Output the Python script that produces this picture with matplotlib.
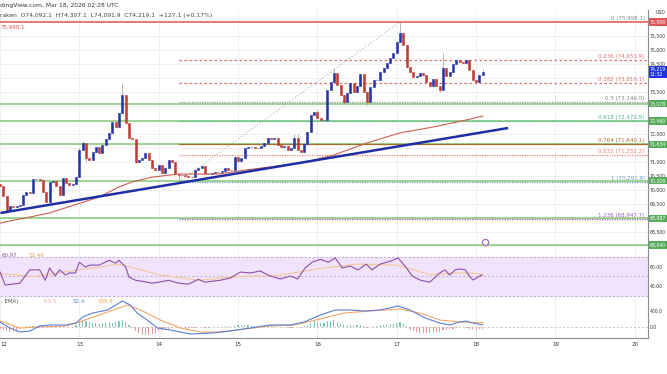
import numpy as np
import matplotlib.pyplot as plt
from matplotlib.transforms import blended_transform_factory

# BTC/USD hourly candles, hour 0 = Mar 12 00:00 UTC
first_open = 70210
close = [70140, 69790, 69250, 69430, 69400, 69430, 69460, 69820, 69930, 69890,
         70390, 70390, 70360, 69930, 69570, 70290, 70320, 70140, 69820, 70430,
         70250, 70180, 70200, 70460, 71430, 71680, 71140, 71070, 71360, 71540,
         71320, 71610, 71820, 72040, 72430, 72250, 72750, 73390, 72390, 71860,
         71820, 71000, 71070, 71140, 71320, 71070, 70790, 70710, 70890, 70610,
         70790, 71070, 71000, 70570, 70540, 70540, 70500, 70460, 70480, 70710,
         70790, 70860, 70570, 70570, 70610, 70640, 70640, 70680, 70790, 70710,
         70710, 71180, 71040, 71140, 71500, 71540, 71540, 71500, 71500, 71570,
         71680, 71860, 71820, 71860, 71610, 71540, 71570, 71430, 71500, 71860,
         71430, 71360, 71640, 72070, 72680, 72790, 72570, 72500, 72500, 73570,
         73860, 74180, 73750, 73390, 73140, 73460, 73820, 73500, 73710, 74140,
         73500, 73140, 73680, 73930, 73930, 74210, 74360, 74540, 74710, 74890,
         75290, 75610, 75180, 74390, 74210, 74040, 74070, 74180, 74110, 73860,
         73710, 73960, 73710, 73570, 74360, 74070, 74210, 74500, 74640, 74570,
         74540, 74640, 74290, 73930, 73860, 74092, 74219]
wick_high = {24: 71500, 25: 71750, 37: 73820, 89: 72000, 90: 72000, 96: 72860,
             101: 74360, 120: 75320, 121: 75998, 134: 74890, 146: 74307}
wick_low = {2: 69180, 3: 69330, 26: 71000, 41: 70960, 54: 70292, 104: 73080,
            111: 73040, 133: 73500, 146: 74092}

# moving average (red line)
ma_h = [0, 15, 30, 36, 40, 46, 54, 66, 74, 91, 101, 111, 121, 131, 141, 146]
ma_v = [68820, 69180, 69750, 70110, 70290, 70460, 70570, 70570, 70710, 70960,
        71250, 71680, 72040, 72250, 72500, 72640]

# trend line and fib anchors
trend_h = [0.12, 153.7]
trend_v = [69179, 72214]
fib_low_h, fib_low = 54, 70291.9
fib_high_h, fib_high = 121, 75998.1
fib_ratios = ['0', '0.236', '0.382', '0.5', '0.618', '0.764', '0.832', '1', '1.236']
fib_prices = [75998.1, 74651.9, 73819.1, 73146.0, 72472.9, 71640.1, 71252.2, 70291.9, 68947.7]
fib_colors = ['#e05555', '#e07070', '#e07070', '#999999', '#4db89a', '#a07030',
              '#f08080', '#6fa0c8', '#9b5fc0']
fib_styles = ['-', (0, (2, 2)), (0, (2, 2)), (0, (1, 1)), (0, (1, 1)), '-',
              (0, (1, 1)), (0, (1, 1)), (0, (1, 1))]

# support / resistance lines
green_levels = [73078, 72460, 71634, 70329, 68987, 68040]
green_labels = ['73,078', '72,460', '71,634', '70,329', '68,987', '68,040']

price_ticks = [75500, 75000, 74500, 73500, 72000, 71000, 70500, 70000, 69500, 68500]

# RSI
rsi_h = [0, 1.6, 6, 9, 12, 13.7, 15, 16.7, 18, 19.8, 21, 22.8, 24, 25.8, 27.3, 30,
         33, 35, 36, 38, 39, 41, 43, 46, 48, 51, 54, 57, 60, 62, 64, 66.6,
         69.6, 72.7, 75.7, 78.7, 81.7, 84.8, 87.8, 90, 92.3, 94.4, 96.9, 99.3,
         101.4, 103.5, 105.9, 108.3, 110.8, 112.5, 115, 118, 120.4, 122.5,
         124.7, 127, 130, 133, 134.6, 136, 137.7, 139.2, 140.7, 142.2, 143.1,
         144.6, 145.8]
rsi_v = [54.7, 41, 43, 57, 57, 46, 59, 50.5, 57, 51.6, 53.7, 53.7, 65, 60, 62, 62,
         67, 64, 67, 60, 49.5, 46, 45, 43, 44, 46, 43, 42, 47, 44, 45, 46,
         48.4, 54.7, 53.7, 55.8, 50.5, 47.4, 50.5, 47.4, 59, 65, 68, 65,
         69.5, 59, 61, 57, 63, 57, 63, 66, 69.5, 61,
         50.5, 46.3, 44, 53.7, 57, 51.6, 57, 58, 57, 49.5, 46.3,
         49.5, 51.6]
rsi_ma_h = [0, 10, 24, 36, 48, 60, 72, 84, 96, 108, 120, 130, 140, 146]
rsi_ma_v = [53, 50, 57, 63, 52, 46, 50, 51, 58, 63, 62, 52, 54, 52.5]

# MACD
macd_h = [0, 3, 6, 9, 12, 15, 20, 23, 25, 28, 32.5, 35, 37, 39.4, 41.5, 44.5,
          47.6, 51.5, 57.5, 64.5, 69.6, 75.7, 81.7, 87.8, 92, 96.9, 101.4, 106,
          110.5, 115, 120.4, 124, 128.6, 133, 136, 139, 141, 143, 146]
macd_v = [125, -25, -125, -100, 25, 50, 50, 100, 250, 350, 425, 550, 650, 550,
          350, 175, -25, -75, -175, -150, -100, -25, 50, 50, 125, 300, 425, 425,
          400, 425, 525, 425, 225, 100, 50, 125, 150, 100, 52.4]
signal_h = [0, 6, 12, 20, 24, 30, 36, 38.5, 42.5, 48.5, 54.5, 60.5, 66.6, 74,
            81.7, 89, 96.9, 104, 112, 121, 127, 133, 139, 146]
signal_v = [150, -25, 0, 25, 125, 300, 475, 550, 425, 175, -25, -125, -125, -50,
            25, 50, 200, 350, 400, 450, 350, 175, 125, 105.9]
hist = [-40, -80, -110, -120, -100, -70, -40, -10, 20, 30, 20, 10,
        30, 20, -10, 10, 20, 10, -10, 15, 10, 5, 10, 40,
        120, 160, 150, 120, 110, 100, 80, 90, 110, 120, 110, 120,
        140, 170, 120, 60, -20, -90, -150, -190, -200, -190, -170, -140,
        -110, -80, -60, -40, -20, -10, -20, -30, -40, -40, -30, -20,
        -10, -10, -20, -20, -10, 0, 10, 10, 20, 20, 10, 30,
        40, 40, 50, 40, 30, 20, 20, 10, 30, 40, 30, 20,
        0, -10, -10, -20, -20, 10, -10, -20, 20, 60, 110, 140,
        130, 110, 100, 140, 160, 170, 120, 80, 50, 50, 60, 40,
        40, 50, 20, -20, 0, 20, 20, 40, 50, 60, 70, 80,
        100, 120, 80, 20, -40, -90, -120, -140, -150, -160, -150, -140,
        -130, -120, -80, -70, -60, -40, -20, -10, -10, -20, -40, -60,
        -70, -60, -53.5]

day_ticks = [0, 24, 48, 72, 96, 120, 144, 168, 192]
day_labels = ['12', '13', '14', '15', '16', '17', '18', '19', '20']

W, H = 667, 374
plt.rcParams['font.family'] = ['DejaVu Sans']
fig = plt.figure(figsize=(W / 100, H / 100), dpi=100)


def box(x0, y0, x1, y1):
    return [x0 / W, 1 - y1 / H, (x1 - x0) / W, (y1 - y0) / H]


ax = fig.add_axes(box(0, 10, 648, 251))
rax = fig.add_axes(box(0, 251, 648, 298), sharex=ax)
max_ = fig.add_axes(box(0, 298, 648, 338), sharex=ax)

up_col, dn_col = '#2434a8', '#c23a33'
grid_col = '#eeeeee'
axis_col = '#8a8d95'
fs = 4.0
fs_ax = 3.3

for a in (ax, rax, max_):
    for s in ('top', 'left', 'bottom'):
        a.spines[s].set_visible(False)
    a.spines['right'].set_color(axis_col)
    a.spines['right'].set_linewidth(0.8)
    a.yaxis.tick_right()
    a.tick_params(axis='y', length=0, labelsize=fs_ax, labelcolor='#333333', pad=1.5)
    a.tick_params(axis='x', length=0, labelbottom=False)
    for d in day_ticks:
        a.axvline(d, color=grid_col, lw=0.6, zorder=0)
ax.set_xlim(0.12, 196.0)
max_.spines['bottom'].set_visible(True)
max_.spines['bottom'].set_color(axis_col)

# ---- main price pane ----
ax.set_ylim(67822, 76428)
for p in range(68000, 76500, 500):
    ax.axhline(p, color=grid_col, lw=0.6, zorder=0)
ax.set_yticks(price_ticks)
ax.set_yticklabels([f'{p:,}' for p in price_ticks])

hrs = np.arange(len(close))
c = np.array(close, dtype=float)
o = np.r_[first_open, c[:-1]]
hi = np.maximum(o, c)
lo = np.minimum(o, c)
for k, v in wick_high.items():
    hi[k] = v
for k, v in wick_low.items():
    lo[k] = v
cols = np.where(c >= o, up_col, dn_col)
ax.vlines(hrs, lo, hi, color='#9a9a9a', lw=0.5, zorder=3)
ax.bar(hrs, c - o, bottom=o, width=0.6, color=cols, edgecolor=cols, lw=0.4, zorder=4)

for lvl in green_levels:
    ax.axhline(lvl, color='#8ccc80', lw=1.2, zorder=2)

ax.plot(ma_h, ma_v, color='#cc5f50', lw=0.8, zorder=5)
ax.plot(trend_h, trend_v, color='#1f2ea3', lw=1.8, zorder=6, solid_capstyle='butt')
ax.plot([fib_low_h, fib_high_h], [fib_low, fib_high], color='#b8b8b8', lw=0.6,
        ls=(0, (2, 2)), zorder=2)

for r, p, col, st in zip(fib_ratios, fib_prices, fib_colors, fib_styles):
    if r == '0':
        ax.axhline(p, color=col, lw=1.1, zorder=2)
    else:
        ax.plot([fib_low_h, 196], [p, p], color=col, lw=0.9, ls=st, zorder=2)
    tcol = '#888888' if r in ('0', '0.5') else col
    ax.text(195.0, p + 40, f'{r} ({p:,.1f})', color=tcol, fontsize=fs,
            ha='right', va='bottom', zorder=7)

tr = blended_transform_factory(ax.transAxes, ax.transData)
lab_kw = dict(transform=tr, fontsize=fs_ax, color='white', va='center', ha='left')
for lvl, lab in zip(green_levels, green_labels):
    ax.text(1.003, lvl, lab, bbox=dict(boxstyle='square,pad=0.25', fc='#56ac5a', ec='none'),
            **lab_kw)
ax.text(1.003, 74219, '74,219\n31:32', linespacing=1.1,
        bbox=dict(boxstyle='square,pad=0.25', fc='#1f33e0', ec='none'), **lab_kw)
ax.text(1.003, 75998, '75,998', bbox=dict(boxstyle='square,pad=0.25', fc='#e05555', ec='none'),
        **lab_kw)
ax.text(1.012, 1.0, 'USD', transform=ax.transAxes, fontsize=fs_ax, color='#333333',
        va='top', ha='left')

ax.plot([146.6], [68150], marker='o', ms=4.5, mfc='white', mec='#9b5fc0', mew=0.8, zorder=8)

ax.text(0.3, 75890, '75,998.1', color='#e05555', fontsize=fs, ha='left', va='top')

# header
fig.text(0.0, 1 - 5 / H, 'dingView.com, Mar 18, 2026 02:28 UTC', fontsize=4.3,
         color='#333333', ha='left', va='center')
fig.text(0.0, 1 - 16 / H,
         'raken  O74,092.1  H74,307.1  L74,091.9  C74,219.1  +127.1 (+0.17%)',
         fontsize=4.3, color='#444444', ha='left', va='center')

# ---- RSI pane ----
rax.set_ylim(27.4, 76.8)
rax.axhspan(30, 70, color='#f1e3fb', zorder=0)
for lv in (70, 50, 30):
    rax.axhline(lv, color='#b0a0b8', lw=0.5, ls=(0, (3, 3)), zorder=1)
rax.plot(rsi_ma_h, rsi_ma_v, color='#f3c79a', lw=0.8, zorder=2)
rax.plot(rsi_h, rsi_v, color='#8c4fa8', lw=0.8, zorder=3)
rax.set_yticks([60, 40])
rax.set_yticklabels(['60.00', '40.00'])
rax.text(0.4, 74.5, '60.97', color='#8c4fa8', fontsize=fs, ha='left', va='top')
rax.text(8.5, 74.5, '52.49', color='#e6a64a', fontsize=fs, ha='left', va='top')

# ---- MACD pane ----
max_.set_ylim(-275, 725)
max_.axhline(0, color='#b5b5b5', lw=0.5, ls=(0, (3, 3)), zorder=1)
hv = np.array(hist)
max_.bar(np.arange(len(hist)), hv, width=0.35,
         color=np.where(hv >= 0, '#7fc8b8', '#e59a9a'), zorder=2)
max_.plot(signal_h, signal_v, color='#f2a66a', lw=0.8, zorder=3)
max_.plot(macd_h, macd_v, color='#5b7fd6', lw=0.8, zorder=4)
max_.set_yticks([400, 0])
max_.set_yticklabels(['400.0', '0.0'])
max_.set_xticks(day_ticks)
max_.set_xticklabels(day_labels)
max_.tick_params(axis='x', labelbottom=True, labelsize=fs, labelcolor='#333333', pad=3)
max_.get_xticklabels()[0].set_horizontalalignment('left')
max_.text(0.3, 690, ', EMA)', color='#555555', fontsize=fs, ha='left', va='top')
max_.text(13.0, 690, '-53.5', color='#f0a0a0', fontsize=fs, ha='left', va='top')
max_.text(22.0, 690, '52.4', color='#5b7fd6', fontsize=fs, ha='left', va='top')
max_.text(29.5, 690, '105.9', color='#f2a040', fontsize=fs, ha='left', va='top')

fig.savefig('out.png', dpi=100)
